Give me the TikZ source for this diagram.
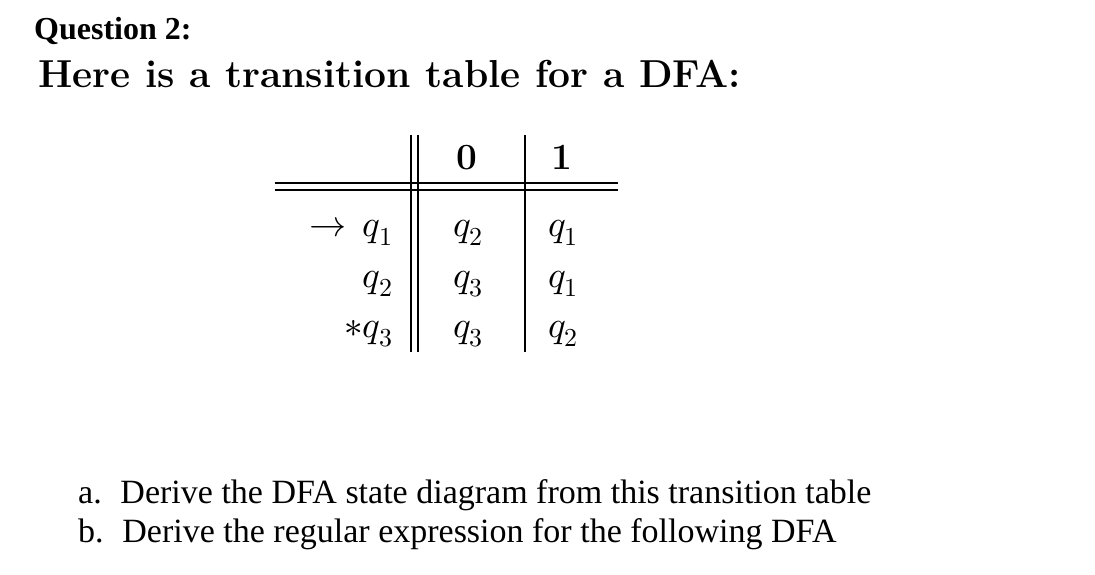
\documentclass[tikz,border=0pt]{standalone}
\usepackage{fontspec}
\setmainfont{Liberation Serif}
\newfontfamily\cmfont{Latin Modern Roman}
\usepackage{unicode-math}
\begin{document}
\begin{tikzpicture}[x=1pt,y=-1pt,
  tx/.style={inner sep=0pt,anchor=base west},
  cell/.style={inner sep=0pt,anchor=base,font=\fontsize{37}{37}\selectfont},
  rl/.style={inner sep=0pt,anchor=base east,font=\fontsize{37}{37}\selectfont},
  rule/.style={line width=2.2pt}]
\useasboundingbox (0,0) rectangle (1095,575);
\node[tx,font=\fontsize{32}{32}\selectfont\bfseries] (t1) at (34,40) {Question 2:};
\node[tx,font=\fontsize{39}{39}\selectfont\cmfont\bfseries] (t2) at (38,88) {Here is a transition table for a DFA:};
\coordinate (v1a) at (411,135); \coordinate (v1b) at (411,352);
\coordinate (v2a) at (418,135); \coordinate (v2b) at (418,352);
\coordinate (v3a) at (525,135); \coordinate (v3b) at (525,352);
\coordinate (h1a) at (275,183); \coordinate (h1b) at (618,183);
\coordinate (h2a) at (275,190); \coordinate (h2b) at (618,190);
\draw[rule] (v1a) -- (v1b); \draw[rule] (v2a) -- (v2b); \draw[rule] (v3a) -- (v3b);
\draw[rule] (h1a) -- (h1b); \draw[rule] (h2a) -- (h2b);
\node[cell] (c0) at (467,170) {\cmfont\bfseries 0};
\node[cell] (c1) at (562,170) {\cmfont\bfseries 1};
\node[rl] (r1) at (393,236) {$\symbf{\rightarrow}\, q_1$};
\node[rl] (r2) at (393,287) {$q_2$};
\node[rl] (r3) at (393,337) {$\ast q_3$};
\node[cell] (a1) at (468,236) {$q_2$};
\node[cell] (a2) at (468,287) {$q_3$};
\node[cell] (a3) at (468,337) {$q_3$};
\node[cell] (b1) at (563,236) {$q_1$};
\node[cell] (b2) at (563,287) {$q_1$};
\node[cell] (b3) at (563,337) {$q_2$};
\node[tx,font=\fontsize{34}{34}\selectfont] (la) at (78,503) {a.\hspace{0.55em}Derive the DFA state diagram from this transition table};
\node[tx,font=\fontsize{34}{34}\selectfont] (lb) at (78,542) {b.\hspace{0.55em}Derive the regular expression for the following DFA};
\end{tikzpicture}
\end{document}
